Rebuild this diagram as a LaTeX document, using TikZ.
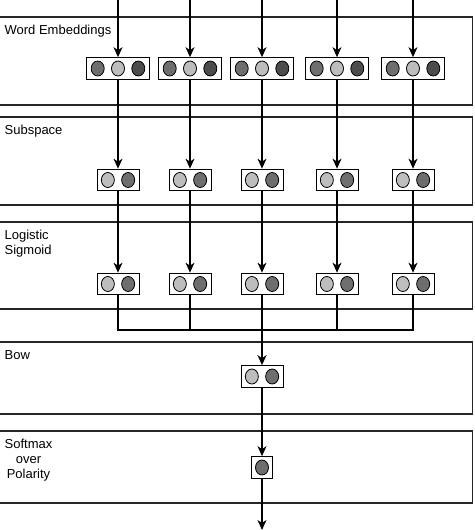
\documentclass[tikz,border=0pt]{standalone}
\usepackage{fontspec}
\setmainfont{Liberation Sans}
\usetikzlibrary{matrix}
\usetikzlibrary{positioning,shapes,arrows.meta}
\definecolor{gmid}{gray}{0.43}
\definecolor{glight}{gray}{0.74}
\definecolor{gdark}{gray}{0.30}
\tikzset{
  vec/.style={matrix of nodes, draw, line width=0.9pt, fill=white,
    inner xsep=4pt, inner ysep=3pt, column sep=6.5pt, nodes in empty cells,
    ampersand replacement=\&,
    nodes={ellipse, draw, line width=0.8pt, minimum width=13pt, minimum height=15pt, inner sep=0pt}},
  wvec/.style={vec, column 1/.style={nodes={fill=gmid}}, column 2/.style={nodes={fill=glight}},
    column 3/.style={nodes={fill=gdark}}},
  svec/.style={vec, column 1/.style={nodes={fill=glight}}, column 2/.style={nodes={fill=gmid}}},
  pvec/.style={vec, column 1/.style={nodes={fill=gmid}}},
}
\begin{document}
\begin{tikzpicture}[x=1pt, y=-1pt, >={Stealth[length=10pt,width=9pt,inset=3pt]},
    band/.style={draw=black!85, line width=1.1pt, minimum width=474.5pt, inner sep=0pt},
    lbl/.style={anchor=north west, inner sep=0pt, font=\fontsize{13}{15}\selectfont},
    link/.style={->, line width=1.1pt}]
    \useasboundingbox (0,0) rectangle (474,530);
    % layers
    \node[band, minimum height=88pt] (b1) at (235.25,61) {};
    \node[band, minimum height=88pt] (b2) at (235.25,161) {};
    \node[band, minimum height=87pt] (b3) at (235.25,265.5) {};
    \node[band, minimum height=72pt] (b4) at (235.25,378) {};
    \node[band, minimum height=72pt] (b5) at (235.25,467) {};
    \node[lbl] (lwe) at ([xshift=7pt, yshift=-8pt]b1.north west) {Word Embeddings};
    \node[lbl] (lsub) at ([xshift=7pt, yshift=-8pt]b2.north west) {Subspace};
    \node[lbl, align=left] (lsig) at ([xshift=7pt, yshift=-8pt]b3.north west) {Logistic\\Sigmoid};
    \node[lbl] (lbow) at ([xshift=7pt, yshift=-9pt]b4.north west) {Bow};
    \node[lbl, align=center] (lsoft) at ([xshift=7pt, yshift=-8pt]b5.north west) {Softmax\\over\\Polarity};
    % vectors
    \coordinate (mrg) at (262,330);
    \foreach \i/\x in {1/118,2/190,3/262,4/337,5/413} {
      \matrix (w\i) [wvec] at (\x,68.5) {\& \& \\};
      \matrix (s\i) [svec] at (\x,180) {\& \\};
      \matrix (g\i) [svec] at (\x,284) {\& \\};
      \coordinate (top\i) at (\x,0);
      \draw[link] (top\i) -- (w\i.north);
      \draw[link] (w\i.south) -- (s\i.north);
      \draw[link] (s\i.south) -- (g\i.north);
      \draw[line width=1.1pt] (g\i.south) -- (g\i.south |- mrg);
    }
    \draw[line width=1.1pt] (g1.south) |- (mrg) -| (g5.south);
    \matrix (bow) [svec] at (262,376.5) {\& \\};
    \matrix (soft) [pvec] at (262,467.5) {\\};
    \coordinate (out) at (262,530);
    \draw[link, line width=2pt] (mrg) -- (bow.north);
    \draw[link] (bow.south) -- (soft.north);
    \draw[link] (soft.south) -- (out);
\end{tikzpicture}
\end{document}
